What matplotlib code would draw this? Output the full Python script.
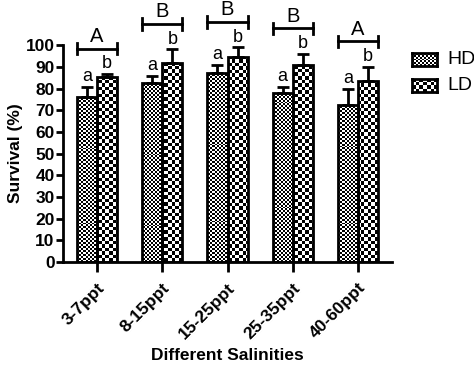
import numpy as np
import matplotlib.pyplot as plt
from matplotlib.transforms import ScaledTranslation

plt.rcParams['font.family'] = ['Liberation Sans', 'DejaVu Sans']

# data
salinities = ['3-7ppt', '8-15ppt', '15-25ppt', '25-35ppt', '40-60ppt']
hd_mean = [76, 82.5, 87, 78, 72.3]
hd_err = [4.6, 3.5, 4, 2.6, 7.7]
ld_mean = [85.2, 91.7, 94.5, 91, 83.4]
ld_err = [1.4, 6.3, 4.5, 5, 6.6]
hd_letters = ['a', 'a', 'a', 'a', 'a']
ld_letters = ['b', 'b', 'b', 'b', 'b']
group_letters = ['A', 'B', 'B', 'B', 'A']

fig = plt.figure(figsize=(4.74, 3.67), dpi=100)
ax = fig.add_axes([0.133, 0.286, 0.694, 0.591])

x = np.arange(len(salinities))
w = 0.31
ax.set_xlim(-0.52, len(salinities) - 1 + 0.52)
ax.set_ylim(0, 100)


def checker(ny, nx):
    return (np.add.outer(np.arange(ny), np.arange(nx)) % 2).astype(float)


xl, yl = ax.get_xlim(), ax.get_ylim()
fine = checker(110, 165)
coarse = checker(62, 94)

hd_bars = ax.bar(x - w / 2, hd_mean, w, facecolor='none', edgecolor='black', linewidth=2, zorder=3)
ld_bars = ax.bar(x + w / 2, ld_mean, w, facecolor='none', edgecolor='black', linewidth=2, zorder=3)

for bars, pat in [(hd_bars, fine), (ld_bars, coarse)]:
    for b in bars:
        im = ax.imshow(pat, cmap='gray', extent=(xl[0], xl[1], yl[0], yl[1]),
                       interpolation='nearest', aspect='auto', zorder=2)
        im.set_clip_path(b)

ax.set_xlim(xl)
ax.set_ylim(yl)

ax.errorbar(x - w / 2, hd_mean, yerr=[np.zeros(5), hd_err], fmt='none', ecolor='black',
            elinewidth=2, capsize=4, capthick=2, zorder=4, clip_on=False)
ax.errorbar(x + w / 2, ld_mean, yerr=[np.zeros(5), ld_err], fmt='none', ecolor='black',
            elinewidth=2, capsize=4, capthick=2, zorder=4, clip_on=False)

for i in range(len(salinities)):
    top_hd = hd_mean[i] + hd_err[i]
    top_ld = ld_mean[i] + ld_err[i]
    ax.text(x[i] - w / 2, top_hd + 0.8, hd_letters[i], ha='center', va='bottom', fontsize=13, clip_on=False)
    ax.text(x[i] + w / 2, top_ld + 0.8, ld_letters[i], ha='center', va='bottom', fontsize=13, clip_on=False)
    yb = max(top_hd, top_ld) + 11.7
    ax.plot([x[i] - w, x[i] + w], [yb, yb], color='black', lw=2, clip_on=False)
    for xe in (x[i] - w, x[i] + w):
        ax.plot([xe, xe], [yb - 2.6, yb + 2.6], color='black', lw=2, clip_on=False)
    ax.text(x[i], yb + 1.2, group_letters[i], ha='center', va='bottom', fontsize=14.5, clip_on=False)

ax.set_yticks(np.arange(0, 101, 10))
ax.set_xticks(x)
ax.set_xticklabels(salinities, rotation=45, ha='right', rotation_mode='anchor', fontweight='bold', fontsize=12.5)
shift = ScaledTranslation(6 / 100, 0, fig.dpi_scale_trans)
for lab in ax.get_xticklabels():
    lab.set_transform(lab.get_transform() + shift)
for lab in ax.get_yticklabels():
    lab.set_fontweight('bold')
    lab.set_fontsize(12.5)
ax.tick_params(axis='y', width=2, length=5, pad=1)
ax.tick_params(axis='x', width=2, length=7, pad=6)
ax.spines['top'].set_visible(False)
ax.spines['right'].set_visible(False)
ax.spines['left'].set_linewidth(2)
ax.spines['bottom'].set_linewidth(2)
ax.set_ylabel('Survival (%)', fontweight='bold', fontsize=12.5, labelpad=2)
ax.set_xlabel('Different Salinities', fontweight='bold', fontsize=12.5)
ax.xaxis.set_label_coords(0.5, -0.395)

# legend swatches
for (label, pat, ytop) in [('HD', checker(7, 13), 53), ('LD', checker(4, 7), 79)]:
    lax = fig.add_axes([412 / 474, 1 - (ytop + 13) / 367, 25 / 474, 13 / 367])
    lax.imshow(pat, cmap='gray', interpolation='nearest', aspect='auto')
    lax.set_xticks([])
    lax.set_yticks([])
    for s in lax.spines.values():
        s.set_linewidth(2)
    fig.text(447 / 474, 1 - (ytop + 7) / 367, label, fontsize=14, va='center', ha='left')

fig.savefig('out.png', dpi=100)
